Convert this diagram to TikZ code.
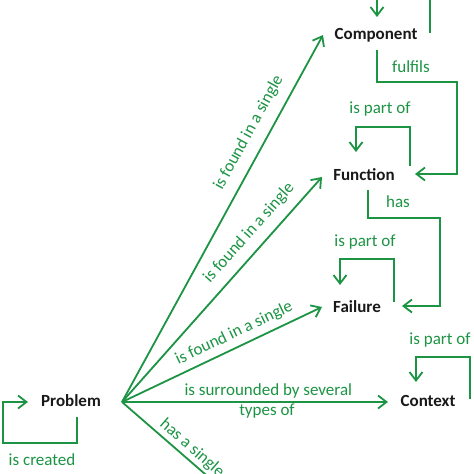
\documentclass[tikz,border=0pt]{standalone}
\usepackage{fontspec}
\setmainfont{Carlito}
\usetikzlibrary{arrows.meta,calc}
\definecolor{cgreen}{RGB}{28,148,68}
\begin{document}
\begin{tikzpicture}[x=1pt,y=-1pt,
  concept/.style={font=\fontsize{17}{20}\selectfont\bfseries, text=black!90, inner sep=0pt},
  lab/.style={font=\fontsize{17}{20}\selectfont, text=cgreen, inner sep=0pt},
  link/.style={draw=cgreen, line width=1.8pt, -{Straight Barb[length=8.5pt,width=13pt]}}]
\useasboundingbox (0,0) rectangle (474,474);
\clip (0,0) rectangle (474,474);
\fill[white] (0,0) rectangle (474,474);
% concepts
\node[concept] (comp) at (376,35) {Component};
\node[concept] (func) at (364,175) {Function};
\node[concept] (fail) at (357,307) {Failure};
\node[concept] (ctx) at (428,401) {Context};
\node[concept] (prob) at (71,401) {Problem};
\coordinate (src) at ($(prob)+(51,1)$);
\coordinate (offb) at ($(src)+(121,105)$);
% diagonal links from Problem
\draw[link] (src) -- ($(comp)+(-53,0)$)
  node[lab, sloped, pos=0.71, above=10pt] {is found in a single};
\draw[link] (src) -- ($(func)+(-42,2)$)
  node[lab, sloped, pos=0.70, above=9pt] {is found in a single};
\draw[link] (src) -- ($(fail)+(-35,0)$)
  node[lab, sloped, pos=0.59, above=5.5pt] {is found in a single};
\draw[link] (src) -- ($(ctx)+(-40,1)$)
  node[lab, pos=0.55, above=2.4pt] {is surrounded by several}
  node[lab, pos=0.545, below=1pt] {types of};
\draw[link] (src) -- (offb)
  node[lab, sloped, pos=0.52, above=2.5pt] {has a single};
% Component self loop (cut at top)
\draw[link] ($(comp)+(54,-2)$) -- ++(0,-60) -| ($(comp)+(1,-18)$);
% Component fulfils Function
\draw[link] ($(comp)+(1,15)$) |- ($(comp)+(81,47)$) |- ($(func)+(51,-1)$);
\node[lab] (lfulfils) at ($(comp)+(35,32)$) {fulfils};
% Function is part of
\draw[link] ($(func)+(46,-9)$) -- ++(0,-39) -| ($(func)+(-8,-23)$);
\node[lab] (lpartf) at ($(func)+(16,-66)$) {is part of};
% Function has Failure
\draw[link] ($(func)+(4,15)$) |- ($(fail)+(83,-89)$) |- ($(fail)+(45,-1)$);
\node[lab] (lhas) at ($(func)+(34,27)$) {has};
% Failure is part of
\draw[link] ($(fail)+(37,-5)$) -- ++(0,-43) -| ($(fail)+(-17,-22)$);
\node[lab] (lpartr) at ($(fail)+(8,-65)$) {is part of};
% Context is part of
\draw[link] ($(ctx)+(42,-2)$) -- ++(0,-42) -| ($(ctx)+(-12,-19)$);
\node[lab] (lpartc) at ($(ctx)+(12,-61)$) {is part of};
% Problem is created
\draw[link] ($(prob)+(6,16)$) |- ($(prob)+(-68,42)$) |- ($(prob)+(-43,1)$);
\node[lab] (lcreated) at ($(prob)+(-29,59)$) {is created};
\end{tikzpicture}
\end{document}
